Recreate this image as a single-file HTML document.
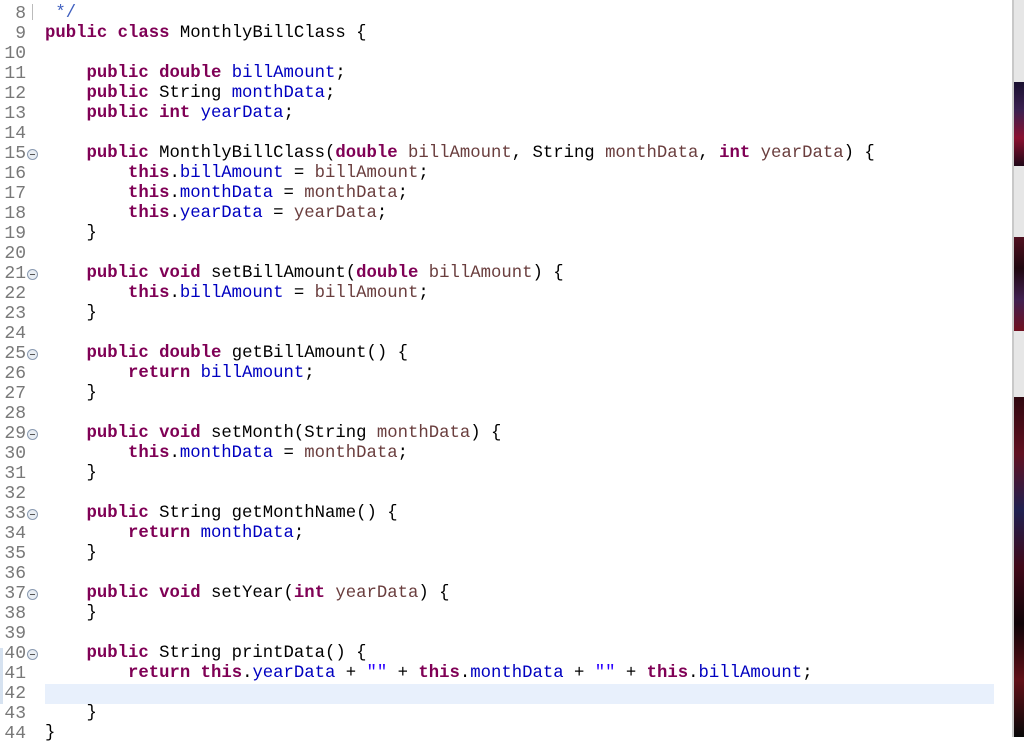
<!DOCTYPE html>
<html><head><meta charset="utf-8"><style>
body{margin:0;width:1024px;height:737px;overflow:hidden;background:#fff;position:relative;font-family:"Liberation Mono",monospace;font-size:17.3px;}
.l{position:absolute;left:0;height:20px;line-height:20px;white-space:pre;color:#000;margin-top:3px;}
.n{position:absolute;left:0;width:26px;text-align:right;color:#787878;font-size:18px;}
.c{position:absolute;left:45px;}
.k{color:#7f0055;font-weight:bold}.f{color:#0000c0}.p{color:#6a3e3e}.s{color:#2a00ff}.cm{color:#3f5fbf}
.fold{position:absolute;left:27px;top:5px;width:9px;height:9px;border:1px solid #8a9ab0;border-radius:50%;background:#e8edf3;}
.fold:after{content:"";position:absolute;left:2px;top:4px;width:5px;height:1px;background:#555;}
</style></head><body>
<div style="position:absolute;left:45px;top:684px;width:949px;height:20px;background:#e8f0fc"></div>
<div style="position:absolute;left:0;top:648px;width:3px;height:56px;background:#d6e2f0"></div>
<div style="position:absolute;left:1012px;top:0;width:2px;height:737px;background:#c8c8c8"></div>
<div style="position:absolute;left:1014px;top:0;width:10px;height:737px;background:#e6e6e6"></div>
<div style="position:absolute;left:1014px;top:82px;width:10px;height:84px;background:linear-gradient(#1a1030,#3a2050,#8a1030,#200818)"></div>
<div style="position:absolute;left:1014px;top:237px;width:10px;height:94px;background:linear-gradient(#501020,#200810,#402050,#701020)"></div>
<div style="position:absolute;left:1014px;top:397px;width:10px;height:340px;background:linear-gradient(#300810,#601020,#202050,#400818,#100408,#601018,#080808)"></div>
<div style="position:absolute;left:32px;top:4px;width:1px;height:16px;background:#bbb"></div>

<div class="l" style="top:1px"><span class="n">8</span><span class="c cm"> */</span></div>
<div class="l" style="top:21px"><span class="n">9</span><span class="c"><span class="k">public</span> <span class="k">class</span> MonthlyBillClass {</span></div>
<div class="l" style="top:41px"><span class="n">10</span></div>
<div class="l" style="top:61px"><span class="n">11</span><span class="c">    <span class="k">public</span> <span class="k">double</span> <span class="f">billAmount</span>;</span></div>
<div class="l" style="top:81px"><span class="n">12</span><span class="c">    <span class="k">public</span> String <span class="f">monthData</span>;</span></div>
<div class="l" style="top:101px"><span class="n">13</span><span class="c">    <span class="k">public</span> <span class="k">int</span> <span class="f">yearData</span>;</span></div>
<div class="l" style="top:121px"><span class="n">14</span></div>
<div class="l" style="top:141px"><span class="n">15</span><span class="fold"></span><span class="c">    <span class="k">public</span> MonthlyBillClass(<span class="k">double</span> <span class="p">billAmount</span>, String <span class="p">monthData</span>, <span class="k">int</span> <span class="p">yearData</span>) {</span></div>
<div class="l" style="top:161px"><span class="n">16</span><span class="c">        <span class="k">this</span>.<span class="f">billAmount</span> = <span class="p">billAmount</span>;</span></div>
<div class="l" style="top:181px"><span class="n">17</span><span class="c">        <span class="k">this</span>.<span class="f">monthData</span> = <span class="p">monthData</span>;</span></div>
<div class="l" style="top:201px"><span class="n">18</span><span class="c">        <span class="k">this</span>.<span class="f">yearData</span> = <span class="p">yearData</span>;</span></div>
<div class="l" style="top:221px"><span class="n">19</span><span class="c">    }</span></div>
<div class="l" style="top:241px"><span class="n">20</span></div>
<div class="l" style="top:261px"><span class="n">21</span><span class="fold"></span><span class="c">    <span class="k">public</span> <span class="k">void</span> setBillAmount(<span class="k">double</span> <span class="p">billAmount</span>) {</span></div>
<div class="l" style="top:281px"><span class="n">22</span><span class="c">        <span class="k">this</span>.<span class="f">billAmount</span> = <span class="p">billAmount</span>;</span></div>
<div class="l" style="top:301px"><span class="n">23</span><span class="c">    }</span></div>
<div class="l" style="top:321px"><span class="n">24</span></div>
<div class="l" style="top:341px"><span class="n">25</span><span class="fold"></span><span class="c">    <span class="k">public</span> <span class="k">double</span> getBillAmount() {</span></div>
<div class="l" style="top:361px"><span class="n">26</span><span class="c">        <span class="k">return</span> <span class="f">billAmount</span>;</span></div>
<div class="l" style="top:381px"><span class="n">27</span><span class="c">    }</span></div>
<div class="l" style="top:401px"><span class="n">28</span></div>
<div class="l" style="top:421px"><span class="n">29</span><span class="fold"></span><span class="c">    <span class="k">public</span> <span class="k">void</span> setMonth(String <span class="p">monthData</span>) {</span></div>
<div class="l" style="top:441px"><span class="n">30</span><span class="c">        <span class="k">this</span>.<span class="f">monthData</span> = <span class="p">monthData</span>;</span></div>
<div class="l" style="top:461px"><span class="n">31</span><span class="c">    }</span></div>
<div class="l" style="top:481px"><span class="n">32</span></div>
<div class="l" style="top:501px"><span class="n">33</span><span class="fold"></span><span class="c">    <span class="k">public</span> String getMonthName() {</span></div>
<div class="l" style="top:521px"><span class="n">34</span><span class="c">        <span class="k">return</span> <span class="f">monthData</span>;</span></div>
<div class="l" style="top:541px"><span class="n">35</span><span class="c">    }</span></div>
<div class="l" style="top:561px"><span class="n">36</span></div>
<div class="l" style="top:581px"><span class="n">37</span><span class="fold"></span><span class="c">    <span class="k">public</span> <span class="k">void</span> setYear(<span class="k">int</span> <span class="p">yearData</span>) {</span></div>
<div class="l" style="top:601px"><span class="n">38</span><span class="c">    }</span></div>
<div class="l" style="top:621px"><span class="n">39</span></div>
<div class="l" style="top:641px"><span class="n">40</span><span class="fold"></span><span class="c">    <span class="k">public</span> String printData() {</span></div>
<div class="l" style="top:661px"><span class="n">41</span><span class="c">        <span class="k">return</span> <span class="k">this</span>.<span class="f">yearData</span> + <span class="s">""</span> + <span class="k">this</span>.<span class="f">monthData</span> + <span class="s">""</span> + <span class="k">this</span>.<span class="f">billAmount</span>;</span></div>
<div class="l" style="top:681px"><span class="n">42</span></div>
<div class="l" style="top:701px"><span class="n">43</span><span class="c">    }</span></div>
<div class="l" style="top:721px"><span class="n">44</span><span class="c">}</span></div>
</body></html>
